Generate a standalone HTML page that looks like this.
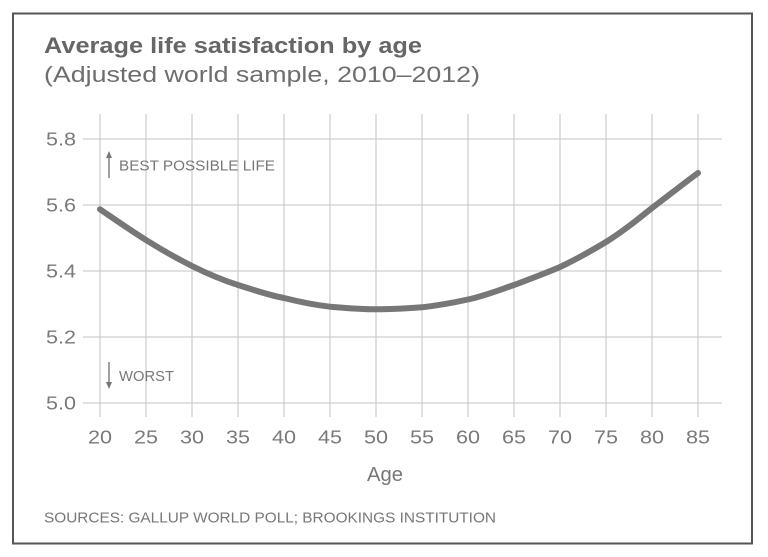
<!DOCTYPE html>
<html><head><meta charset="utf-8"><style>
html,body{margin:0;padding:0;background:#fff;}
svg{display:block;}
text{font-family:"Liberation Sans",sans-serif;}
</style></head><body>
<svg width="768" height="557" viewBox="0 0 768 557" xmlns="http://www.w3.org/2000/svg">
<rect x="0" y="0" width="768" height="557" fill="#fff"/>
<rect x="13" y="13.5" width="739" height="530" fill="none" stroke="#555" stroke-width="2"/>
<text x="44" y="53" font-size="22.5" font-weight="bold" fill="#666" textLength="378" lengthAdjust="spacingAndGlyphs">Average life satisfaction by age</text>
<text x="44" y="82" font-size="22.5" fill="#6e6e6e" textLength="436" lengthAdjust="spacingAndGlyphs">(Adjusted world sample, 2010–2012)</text>
<g stroke="#cfcfcf" stroke-width="1.3">
<line x1="83" y1="139" x2="722" y2="139"/>
<line x1="83" y1="205" x2="722" y2="205"/>
<line x1="83" y1="271" x2="722" y2="271"/>
<line x1="83" y1="337" x2="722" y2="337"/>
<line x1="83" y1="403" x2="722" y2="403"/>
<line x1="100" y1="114" x2="100" y2="417"/>
<line x1="146" y1="114" x2="146" y2="417"/>
<line x1="192" y1="114" x2="192" y2="417"/>
<line x1="238" y1="114" x2="238" y2="417"/>
<line x1="284" y1="114" x2="284" y2="417"/>
<line x1="330" y1="114" x2="330" y2="417"/>
<line x1="376" y1="114" x2="376" y2="417"/>
<line x1="422" y1="114" x2="422" y2="417"/>
<line x1="468" y1="114" x2="468" y2="417"/>
<line x1="514" y1="114" x2="514" y2="417"/>
<line x1="560" y1="114" x2="560" y2="417"/>
<line x1="606" y1="114" x2="606" y2="417"/>
<line x1="652" y1="114" x2="652" y2="417"/>
<line x1="698" y1="114" x2="698" y2="417"/>
</g>
<g font-size="18.5" fill="#7a7a7a">
<text x="46" y="145.5" textLength="30" lengthAdjust="spacingAndGlyphs">5.8</text>
<text x="46" y="211.5" textLength="30" lengthAdjust="spacingAndGlyphs">5.6</text>
<text x="46" y="277.5" textLength="30" lengthAdjust="spacingAndGlyphs">5.4</text>
<text x="46" y="343.5" textLength="30" lengthAdjust="spacingAndGlyphs">5.2</text>
<text x="46" y="409.5" textLength="30" lengthAdjust="spacingAndGlyphs">5.0</text>
</g>
<g font-size="18.5" fill="#7a7a7a">
<text x="88" y="443.5" textLength="24" lengthAdjust="spacingAndGlyphs">20</text>
<text x="134" y="443.5" textLength="24" lengthAdjust="spacingAndGlyphs">25</text>
<text x="180" y="443.5" textLength="24" lengthAdjust="spacingAndGlyphs">30</text>
<text x="226" y="443.5" textLength="24" lengthAdjust="spacingAndGlyphs">35</text>
<text x="272" y="443.5" textLength="24" lengthAdjust="spacingAndGlyphs">40</text>
<text x="318" y="443.5" textLength="24" lengthAdjust="spacingAndGlyphs">45</text>
<text x="364" y="443.5" textLength="24" lengthAdjust="spacingAndGlyphs">50</text>
<text x="410" y="443.5" textLength="24" lengthAdjust="spacingAndGlyphs">55</text>
<text x="456" y="443.5" textLength="24" lengthAdjust="spacingAndGlyphs">60</text>
<text x="502" y="443.5" textLength="24" lengthAdjust="spacingAndGlyphs">65</text>
<text x="548" y="443.5" textLength="24" lengthAdjust="spacingAndGlyphs">70</text>
<text x="594" y="443.5" textLength="24" lengthAdjust="spacingAndGlyphs">75</text>
<text x="640" y="443.5" textLength="24" lengthAdjust="spacingAndGlyphs">80</text>
<text x="686" y="443.5" textLength="24" lengthAdjust="spacingAndGlyphs">85</text>
</g>
<text x="367" y="481" font-size="20.5" fill="#777" textLength="36" lengthAdjust="spacingAndGlyphs">Age</text>
<text x="44" y="522.5" font-size="15" fill="#777" textLength="452" lengthAdjust="spacingAndGlyphs">SOURCES: GALLUP WORLD POLL; BROOKINGS INSTITUTION</text>
<!-- annotations -->
<g stroke="#777" stroke-width="1.4" fill="none">
<line x1="109" y1="155" x2="109" y2="178"/>
<line x1="109" y1="362" x2="109" y2="385"/>
</g>
<path d="M109,151 L106,158 L112,158 Z" fill="#777"/>
<path d="M109,389 L106,382 L112,382 Z" fill="#777"/>
<text x="119" y="170.5" font-size="15" fill="#777" textLength="156" lengthAdjust="spacingAndGlyphs">BEST POSSIBLE LIFE</text>
<text x="119" y="381" font-size="15" fill="#777" textLength="55" lengthAdjust="spacingAndGlyphs">WORST</text>
<!-- curve -->
<path d="M100,209.3 C115,219.5 130,230 146,240 C162,250 176,258 192,266 C208,274 222,280 238,285 C254,290 268,295 284,298 C300,302 315,305 330,306.7 C346,308 360,309.3 376,309.3 C392,309.3 407,308.5 422,307.3 C438,305.5 452,303 468,299.5 C484,296 498,290.5 514,285 C530,279 545,273.5 560,267 C576,259.5 591,251 606,242 C622,232 637,220 652,208 C668,196 683,184 698,173"
 fill="none" stroke="#777" stroke-width="6" stroke-linecap="round" stroke-linejoin="round"/>
</svg>
</body></html>
